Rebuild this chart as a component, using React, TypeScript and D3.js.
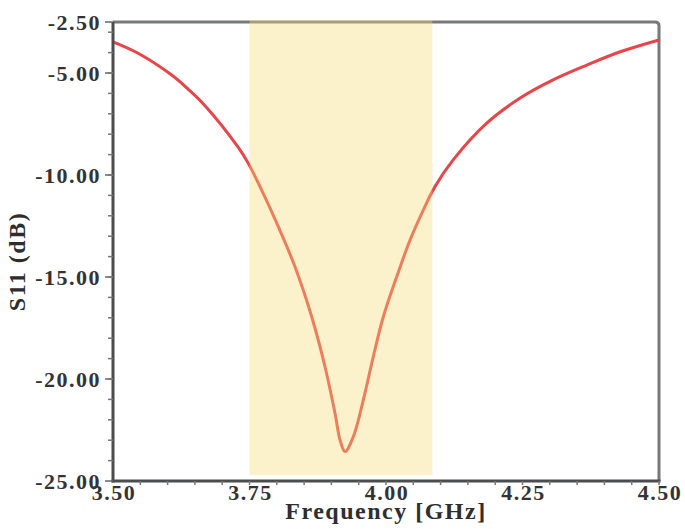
import { useEffect, useRef } from "react";
import * as d3 from "d3";

// S11 sweep
const freqGHz = [3.5, 3.546, 3.6075, 3.638, 3.6685, 3.7295, 3.7478, 3.7723, 3.8027, 3.8333, 3.8639, 3.8883, 3.9066, 3.9158, 3.925, 3.9401, 3.9584, 3.9767, 3.9951, 4.0196, 4.044, 4.0683, 4.0897, 4.123, 4.184, 4.245, 4.306, 4.368, 4.429, 4.5];
const s11dB = [-3.47, -4.03, -5.1, -5.8, -6.6, -8.65, -9.43, -10.74, -12.53, -14.5, -16.95, -19.4, -21.68, -22.99, -23.56, -22.83, -21.03, -18.91, -16.95, -14.99, -13.19, -11.72, -10.57, -9.26, -7.47, -6.24, -5.34, -4.61, -3.96, -3.38];

const xTicks = [3.5, 3.75, 4.0, 4.25, 4.5];
const xMinorTicks = d3.range(3.55, 4.5, 0.05);
const yTicks = [-2.5, -5, -10, -15, -20, -25];
const yMinorTicks = d3.range(-24, -2, 1);
const band = [3.75, 4.085];
const xLabel = "Frequency [GHz]";
const yLabel = "S11 (dB)";

const W = 685;
const H = 529;
const m = { top: 22, right: 26, bottom: 48, left: 113 };
const FONT = "'Liberation Serif', 'Times New Roman', serif";

export default function App() {
  const ref = useRef<SVGSVGElement>(null);

  useEffect(() => {
    document.body.style.margin = "0";
    const svg = d3.select(ref.current!);
    svg.selectAll("*").remove();

    const x = d3.scaleLinear().domain([3.5, 4.5]).range([m.left, W - m.right]);
    const y = d3.scaleLinear().domain([-25, -2.5]).range([H - m.bottom, m.top]);
    const x0 = x(3.5), x1 = x(4.5), y0 = y(-25), y1 = y(-2.5);

    // top + right frame with rounded corner
    svg.append("path")
      .attr("d", `M${x0},${y1} L${x1 - 4},${y1} Q${x1},${y1} ${x1},${y1 + 4} L${x1},${y0}`)
      .attr("fill", "none")
      .attr("stroke", "#76787a")
      .attr("stroke-width", 3);

    // curve
    const pts = freqGHz.map((f, i) => [f, s11dB[i]] as [number, number]);
    const line = d3.line<[number, number]>()
      .x((d) => x(d[0]))
      .y((d) => y(d[1]))
      .curve(d3.curveCatmullRom.alpha(0.5));
    svg.append("path")
      .attr("d", line(pts)!)
      .attr("fill", "none")
      .attr("stroke", "#e8454a")
      .attr("stroke-width", 3);

    // translucent band on top
    svg.append("rect")
      .attr("x", x(band[0]))
      .attr("width", x(band[1]) - x(band[0]))
      .attr("y", y1 - 2)
      .attr("height", y0 - 6 - (y1 - 2))
      .attr("fill", "rgb(245,220,120)")
      .attr("fill-opacity", 0.38);

    // axes lines
    svg.append("line")
      .attr("x1", x0).attr("x2", x0).attr("y1", y1).attr("y2", y0 + 1.5)
      .attr("stroke", "#4a4c4e").attr("stroke-width", 3);
    svg.append("line")
      .attr("x1", x0 - 1.5).attr("x2", x1 + 1.5).attr("y1", y0).attr("y2", y0)
      .attr("stroke", "#4a4c4e").attr("stroke-width", 3);

    // y ticks
    svg.selectAll(".ymaj").data(yTicks).join("line")
      .attr("x1", x0 - 8).attr("x2", x0).attr("y1", (d) => y(d)).attr("y2", (d) => y(d))
      .attr("stroke", "#666").attr("stroke-width", 1.5);
    svg.selectAll(".ymin").data(yMinorTicks).join("line")
      .attr("x1", x0 - 5).attr("x2", x0).attr("y1", (d) => y(d)).attr("y2", (d) => y(d))
      .attr("stroke", "#777").attr("stroke-width", 1.5);
    svg.selectAll(".ylab").data(yTicks).join("text")
      .attr("x", x0 - 12)
      .attr("y", (d) => y(d) + 8)
      .attr("text-anchor", "end")
      .attr("font-family", FONT)
      .attr("font-weight", "bold")
      .attr("font-size", 22)
      .attr("letter-spacing", 1.5)
      .attr("fill", "#333")
      .text((d) => d.toFixed(2));

    // x ticks
    svg.selectAll(".xmin").data(xMinorTicks).join("line")
      .attr("x1", (d) => x(d)).attr("x2", (d) => x(d)).attr("y1", y0).attr("y2", y0 + 4)
      .attr("stroke", "#777").attr("stroke-width", 1.5);
    svg.selectAll(".xlab").data(xTicks).join("text")
      .attr("x", (d) => x(d) + 1)
      .attr("y", y0 + 19)
      .attr("text-anchor", "middle")
      .attr("font-family", FONT)
      .attr("font-weight", "bold")
      .attr("font-size", 22)
      .attr("letter-spacing", 1.5)
      .attr("fill", "#333")
      .text((d) => d.toFixed(2));

    // axis titles
    svg.append("text")
      .attr("x", x(4.0))
      .attr("y", y0 + 38)
      .attr("text-anchor", "middle")
      .attr("font-family", FONT)
      .attr("font-weight", "bold")
      .attr("font-size", 24)
      .attr("letter-spacing", 1.5)
      .attr("fill", "#2e2e2e")
      .text(xLabel);
    svg.append("text")
      .attr("transform", `translate(25,${(y0 + y1) / 2 + 10}) rotate(-90)`)
      .attr("text-anchor", "middle")
      .attr("font-family", FONT)
      .attr("font-weight", "bold")
      .attr("font-size", 24)
      .attr("letter-spacing", 1.5)
      .attr("fill", "#2e2e2e")
      .text(yLabel);
  }, []);

  return <svg ref={ref} width={W} height={H} style={{ display: "block", background: "#fff" }} />;
}
